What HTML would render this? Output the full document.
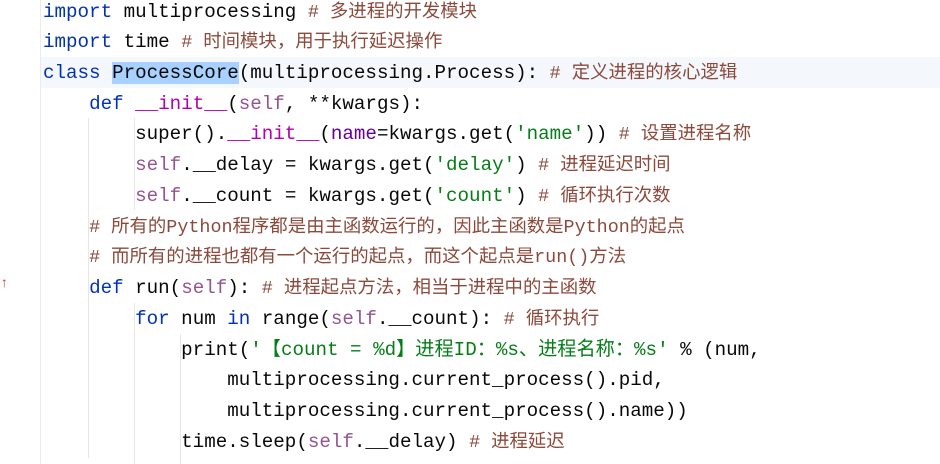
<!DOCTYPE html>
<html><head><meta charset="utf-8"><style>
body{margin:0;width:940px;height:464px;overflow:hidden;background:#fff;position:relative;font-family:"Liberation Mono","Noto Sans CJK SC",monospace;font-size:19.2px;color:#080808}
.l{position:absolute;left:43px;height:31px;line-height:31px;white-space:pre;margin-top:1px}
.k{color:#0033b3}.c{color:#8c4a3c;font-size:18.4px}.s{color:#067d17}.sf{color:#94558d}.d{color:#b200b2}.p{color:#660099}
.hl{position:absolute;left:41px;right:0;top:57px;height:31px;background:#f4f7fc}
.sel{background:#a8d1ff}
.g{position:absolute;left:40px;top:0;width:1px;height:464px;background:#ebebeb}
.ig{position:absolute;width:1px;background:#e6e6e6}
</style></head><body>
<div class="hl"></div>
<div class="g"></div>
<div class="ig" style="left:88px;top:118px;height:340px"></div>
<div class="ig" style="left:134px;top:118px;height:92px"></div>
<div class="ig" style="left:134px;top:303px;height:161px"></div>
<div class="ig" style="left:180px;top:334px;height:130px"></div>
<div style="position:absolute;left:0;top:276px;color:#d0342c;font-size:14px">↑</div>
<div class="l" style="top:-4px"><span class="k">import</span> multiprocessing <span class="c"># 多进程的开发模块</span></div>
<div class="l" style="top:26px"><span class="k">import</span> time <span class="c"># 时间模块，用于执行延迟操作</span></div>
<div class="l" style="top:57px"><span class="k">class</span> <span class="sel">ProcessCore</span>(multiprocessing.Process): <span class="c"># 定义进程的核心逻辑</span></div>
<div class="l" style="top:88px">    <span class="k">def</span> <span class="d">__init__</span>(<span class="sf">self</span>, **kwargs):</div>
<div class="l" style="top:118px">        super().<span class="d">__init__</span>(<span class="p">name</span>=kwargs.get(<span class="s">'name'</span>)) <span class="c"># 设置进程名称</span></div>
<div class="l" style="top:149px">        <span class="sf">self</span>.__delay = kwargs.get(<span class="s">'delay'</span>) <span class="c"># 进程延迟时间</span></div>
<div class="l" style="top:180px">        <span class="sf">self</span>.__count = kwargs.get(<span class="s">'count'</span>) <span class="c"># 循环执行次数</span></div>
<div class="l" style="top:211px">    <span class="c"># 所有的Python程序都是由主函数运行的，因此主函数是Python的起点</span></div>
<div class="l" style="top:241px">    <span class="c"># 而所有的进程也都有一个运行的起点，而这个起点是run()方法</span></div>
<div class="l" style="top:272px">    <span class="k">def</span> run(<span class="sf">self</span>): <span class="c"># 进程起点方法，相当于进程中的主函数</span></div>
<div class="l" style="top:303px">        <span class="k">for</span> num <span class="k">in</span> range(<span class="sf">self</span>.__count): <span class="c"># 循环执行</span></div>
<div class="l" style="top:334px">            print(<span class="s">'【count = %d】进程ID：%s、进程名称：%s'</span> % (num,</div>
<div class="l" style="top:364px">                multiprocessing.current_process().pid,</div>
<div class="l" style="top:395px">                multiprocessing.current_process().name))</div>
<div class="l" style="top:426px">            time.sleep(<span class="sf">self</span>.__delay) <span class="c"># 进程延迟</span></div>
</body></html>
